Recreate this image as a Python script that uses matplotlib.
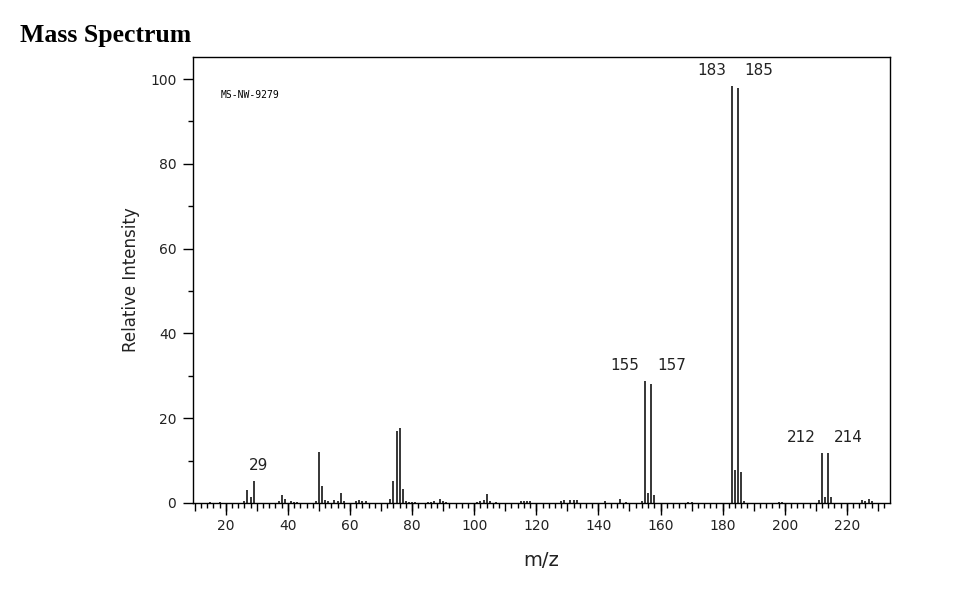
import numpy as np
import matplotlib
matplotlib.use('Agg')
import matplotlib.pyplot as plt
from matplotlib.ticker import MultipleLocator, NullFormatter

# Espectro de masas: m/z y abundancia relativa
mz = [15, 18, 26, 27, 28, 29, 37, 38, 39, 41, 42, 43,
      49, 50, 51, 52, 53, 55, 56, 57, 58, 62, 63, 64, 65,
      73, 74, 75, 76, 77, 78, 79, 80, 81, 85, 86, 87, 89, 90, 91,
      101, 102, 103, 104, 105, 107, 115, 116, 117, 118,
      128, 129, 131, 132, 133, 142, 147, 149, 154, 155, 156, 157, 158,
      169, 170, 183, 184, 185, 186, 187, 198, 199,
      211, 212, 213, 214, 215, 225, 226, 227, 228]
intensity = [0.3, 0.3, 0.5, 3.1, 1.3, 5.2, 0.5, 1.9, 0.9, 0.4, 0.3, 0.3,
             0.5, 12.1, 3.9, 0.6, 0.5, 0.8, 0.5, 2.4, 0.4, 0.4, 0.8, 0.4, 0.4,
             0.9, 5.2, 17.0, 17.8, 3.2, 0.4, 0.3, 0.3, 0.3, 0.3, 0.3, 0.4, 0.9, 0.5, 0.3,
             0.3, 0.4, 0.6, 2.1, 0.4, 0.3, 0.5, 0.4, 0.4, 0.4,
             0.4, 0.6, 0.6, 0.6, 0.6, 0.4, 0.9, 0.3, 0.4, 28.8, 2.3, 28.0, 1.9,
             0.3, 0.3, 98.3, 7.9, 97.8, 7.4, 0.5, 0.3, 0.2,
             0.7, 11.7, 1.3, 11.7, 1.3, 0.7, 0.4, 0.9, 0.5]

# Picos etiquetados
labeled = [29, 155, 157, 183, 185, 212, 214]

fig = plt.figure(figsize=(9.6, 5.89), dpi=100)
ax = fig.add_axes([193 / 960, 1 - 503 / 589, (890 - 193) / 960, (503 - 57) / 589])

ax.vlines(mz, 0, intensity, color='black', lw=1.1)

ax.set_xlim(9.45, 233.9)
ax.set_ylim(0, 105.2)

# Eje X: marcas cada 2, cada 10 y cada 20 (con etiqueta)
ax.xaxis.set_major_locator(MultipleLocator(10))
ax.xaxis.set_minor_locator(MultipleLocator(2))
ax.xaxis.set_major_formatter(NullFormatter())
ax.tick_params(axis='x', which='major', length=5.8, width=1, direction='out')
ax.tick_params(axis='x', which='minor', length=3.6, width=1, direction='out')

sec = ax.secondary_xaxis('bottom')
sec.set_xticks(np.arange(20, 221, 20))
sec.tick_params(axis='x', length=8.3, width=1, pad=3, labelsize=10, labelcolor='#222')
sec.spines['bottom'].set_visible(False)

# Eje Y
ax.yaxis.set_major_locator(MultipleLocator(20))
ax.yaxis.set_minor_locator(MultipleLocator(10))
ax.tick_params(axis='y', which='major', length=7, width=1, pad=5, labelsize=10, labelcolor='#222')
ax.tick_params(axis='y', which='minor', length=3.6, width=1)

for s in ax.spines.values():
    s.set_linewidth(1)

# Etiquetas de los picos (las parejas comparten altura)
for m in labeled:
    h = intensity[mz.index(m)]
    if m + 2 in labeled:
        ha, dx = 'right', -4.3
        h = max(h, intensity[mz.index(m + 2)])
    elif m - 2 in labeled:
        ha, dx = 'left', 4.3
        h = max(h, intensity[mz.index(m - 2)])
    else:
        ha, dx = 'center', 3.5
    ax.annotate(str(m), xy=(m, h), xytext=(dx, 6), textcoords='offset points',
                ha=ha, va='bottom', fontsize=11, color='#222')

ax.text(0.039, 0.915, 'MS-NW-9279', transform=ax.transAxes,
        family='DejaVu Sans Mono', fontsize=7, ha='left', va='center')

fig.text(131 / 960, 1 - 280 / 589, 'Relative Intensity', rotation=90,
         ha='center', va='center', fontsize=12, color='#222')
fig.text(541.5 / 960, 1 - 560 / 589, 'm/z', ha='center', va='center',
         fontsize=14, color='#222')
fig.text(20 / 960, 1 - 42 / 589, 'Mass Spectrum', family='Liberation Serif',
         weight='bold', fontsize=18.5, va='baseline')

fig.savefig('out.png', dpi=100)
